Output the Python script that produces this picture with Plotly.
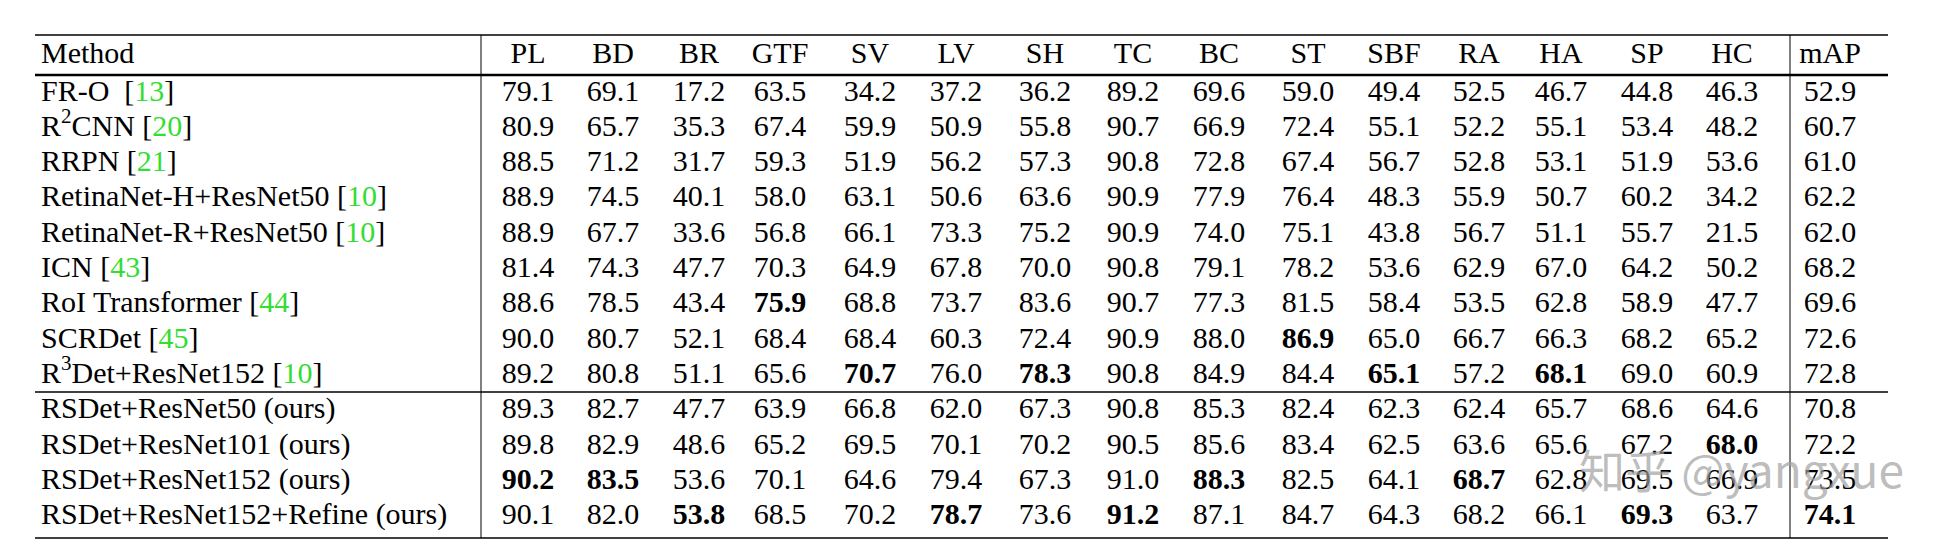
import plotly.graph_objects as go

columns = ["PL", "BD", "BR", "GTF", "SV", "LV", "SH", "TC", "BC", "ST", "SBF", "RA", "HA", "SP", "HC", "mAP"]
methods = [
    "FR-O  [13]", "R<sup>2</sup>CNN [20]", "RRPN [21]", "RetinaNet-H+ResNet50 [10]",
    "RetinaNet-R+ResNet50 [10]", "ICN [43]", "RoI Transformer [44]", "SCRDet [45]",
    "R<sup>3</sup>Det+ResNet152 [10]", "RSDet+ResNet50 (ours)", "RSDet+ResNet101 (ours)",
    "RSDet+ResNet152 (ours)", "RSDet+ResNet152+Refine (ours)",
]
values = [
    [79.1, 69.1, 17.2, 63.5, 34.2, 37.2, 36.2, 89.2, 69.6, 59.0, 49.4, 52.5, 46.7, 44.8, 46.3, 52.9],
    [80.9, 65.7, 35.3, 67.4, 59.9, 50.9, 55.8, 90.7, 66.9, 72.4, 55.1, 52.2, 55.1, 53.4, 48.2, 60.7],
    [88.5, 71.2, 31.7, 59.3, 51.9, 56.2, 57.3, 90.8, 72.8, 67.4, 56.7, 52.8, 53.1, 51.9, 53.6, 61.0],
    [88.9, 74.5, 40.1, 58.0, 63.1, 50.6, 63.6, 90.9, 77.9, 76.4, 48.3, 55.9, 50.7, 60.2, 34.2, 62.2],
    [88.9, 67.7, 33.6, 56.8, 66.1, 73.3, 75.2, 90.9, 74.0, 75.1, 43.8, 56.7, 51.1, 55.7, 21.5, 62.0],
    [81.4, 74.3, 47.7, 70.3, 64.9, 67.8, 70.0, 90.8, 79.1, 78.2, 53.6, 62.9, 67.0, 64.2, 50.2, 68.2],
    [88.6, 78.5, 43.4, 75.9, 68.8, 73.7, 83.6, 90.7, 77.3, 81.5, 58.4, 53.5, 62.8, 58.9, 47.7, 69.6],
    [90.0, 80.7, 52.1, 68.4, 68.4, 60.3, 72.4, 90.9, 88.0, 86.9, 65.0, 66.7, 66.3, 68.2, 65.2, 72.6],
    [89.2, 80.8, 51.1, 65.6, 70.7, 76.0, 78.3, 90.8, 84.9, 84.4, 65.1, 57.2, 68.1, 69.0, 60.9, 72.8],
    [89.3, 82.7, 47.7, 63.9, 66.8, 62.0, 67.3, 90.8, 85.3, 82.4, 62.3, 62.4, 65.7, 68.6, 64.6, 70.8],
    [89.8, 82.9, 48.6, 65.2, 69.5, 70.1, 70.2, 90.5, 85.6, 83.4, 62.5, 63.6, 65.6, 67.2, 68.0, 72.2],
    [90.2, 83.5, 53.6, 70.1, 64.6, 79.4, 67.3, 91.0, 88.3, 82.5, 64.1, 68.7, 62.8, 69.5, 66.9, 73.5],
    [90.1, 82.0, 53.8, 68.5, 70.2, 78.7, 73.6, 91.2, 87.1, 84.7, 64.3, 68.2, 66.1, 69.3, 63.7, 74.1],
]
bold = [(6, 3), (7, 9), (8, 4), (8, 6), (8, 10), (8, 12), (10, 14),
        (11, 0), (11, 1), (11, 8), (11, 11),
        (12, 2), (12, 5), (12, 7), (12, 13), (12, 15)]

col_x = [520, 605, 691, 772, 862, 948, 1037, 1125, 1211, 1300, 1386, 1471, 1553, 1639, 1724, 1822]
row0, row_step = 85, 35.3
font = dict(family="Liberation Serif", size=30, color="black")

fig = go.Figure()

# header
fig.add_trace(go.Scatter(x=[33], y=[47], text=["Method"], mode="text", textposition="middle right",
                         textfont=font, hoverinfo="skip"))
fig.add_trace(go.Scatter(x=col_x, y=[47] * len(columns), text=columns, mode="text",
                         textposition="middle center", textfont=font, hoverinfo="skip"))

# method names with green refs
labels = []
for m in methods:
    if "[" in m:
        i = m.index("[")
        m = m[:i] + "[<span style='color:#33dd33'>" + m[i + 1:-1] + "</span>]"
    labels.append(m)
ys = [row0 + row_step * i for i in range(len(methods))]
fig.add_trace(go.Scatter(x=[33] * len(methods), y=ys, text=labels, mode="text",
                         textposition="middle right", textfont=font, hoverinfo="skip"))

xs, yv, tv = [], [], []
for r, row in enumerate(values):
    for c, v in enumerate(row):
        s = f"{v:.1f}"
        if (r, c) in bold:
            s = "<b>" + s + "</b>"
        xs.append(col_x[c]); yv.append(ys[r]); tv.append(s)
fig.add_trace(go.Scatter(x=xs, y=yv, text=tv, mode="text", textposition="middle center",
                         textfont=font, hoverinfo="skip"))

for y, w in [(27, 1.3), (67, 2.5), (384, 1.3), (530, 1.3)]:
    fig.add_shape(type="line", x0=27, x1=1880, y0=y, y1=y, line=dict(color="black", width=w))
for x in [473, 1782]:
    fig.add_shape(type="line", x0=x, x1=x, y0=27, y1=530, line=dict(color="black", width=1))

fig.add_annotation(x=1733, y=460, text="知乎 @yangxue", showarrow=False,
                   font=dict(family="Noto Sans CJK SC", size=46, color="rgba(160,160,160,0.7)"))

fig.update_layout(
    width=1939, height=548, margin=dict(l=0, r=0, t=0, b=0),
    plot_bgcolor="white", paper_bgcolor="white", showlegend=False,
    xaxis=dict(range=[0, 1939], visible=False, fixedrange=True),
    yaxis=dict(range=[548, 0], visible=False, fixedrange=True),
)
fig.write_html("out.html")
